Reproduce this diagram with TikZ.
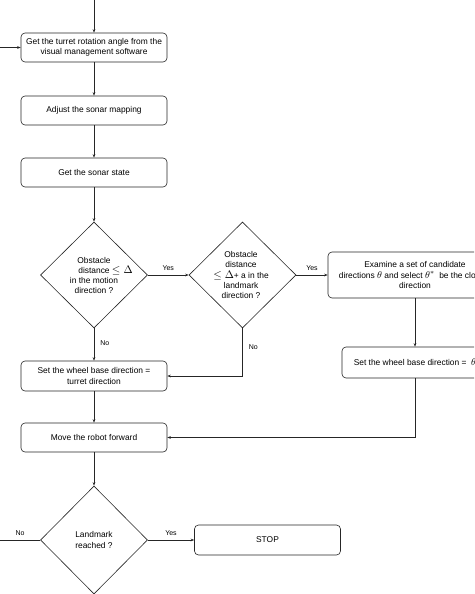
\documentclass[tikz,border=0pt]{standalone}
\usepackage{fontspec}
\setmainfont{Liberation Sans}
\usetikzlibrary{shapes.geometric,arrows.meta}
\begin{document}
\begin{tikzpicture}[x=1pt,y=-1pt,
  box/.style={draw=black!85, line width=0.6pt, rounded corners=4pt, minimum width=146pt, minimum height=29pt, inner sep=1pt, align=center, font=\fontsize{8.4}{10.3}\selectfont},
  dia/.style={draw=black!85, line width=0.6pt, diamond, minimum width=107pt, minimum height=106pt, inner sep=0pt},
  dtext/.style={align=center, inner sep=0pt, font=\fontsize{8.4}{10.3}\selectfont},
  lbl/.style={font=\fontsize{7}{8}\selectfont, inner sep=0pt},
  arr/.style={-{Stealth[length=3.5pt,width=2.6pt]}, line width=0.6pt, draw=black!85},
  ln/.style={line width=0.6pt, draw=black!85}]
\useasboundingbox (0,0) rectangle (474,594);
\clip (0,0) rectangle (474,594);
\node[box] (b1) at (94,47.5) {Get the turret rotation angle from the\\visual management software};
\node[box] (b2) at (94,110.5) {Adjust the sonar mapping};
\node[box] (b3) at (94,172.5) {Get the sonar state};
\node[dia] (d1) at (94,275) {};
\node[dtext] (t1) at (94,275.5) {Obstacle\\distance\rlap{ {\fontsize{11}{10}\selectfont$\leq\Delta$}}\\in the motion\\direction ?};
\node[dia] (d2) at (242.5,275) {};
\node[dtext] (t2) at (241,275) {Obstacle\\distance\\{\fontsize{11}{10}\selectfont$\leq\Delta$}+ a in the\\landmark\\direction ?};
\node[box, minimum width=174pt, minimum height=46pt] (b4) at (415,275) {Examine a set of candidate\\directions {\fontsize{10}{10}\selectfont$\theta$} and select {\fontsize{10}{10}\selectfont$\theta^*$}\ \ be the closest\\direction};
\node[box, minimum height=31pt] (b5) at (415,362.5) {Set the wheel base direction = \ {\fontsize{10}{10}\selectfont$\theta$}};
\node[box, minimum height=30pt] (b6) at (94,376) {Set the wheel base direction =\\turret direction};
\node[box] (b7) at (94,437.5) {Move the robot forward};
\node[dia, minimum height=108pt] (d3) at (94,540) {};
\node[dtext] (t3) at (94,540) {Landmark\\reached ?};
\node[box, minimum height=30pt] (stop) at (267.5,540) {STOP};
\coordinate (top) at (94,0);
\coordinate (lin) at (0,47.5);
\coordinate (lout) at (0,540);
\draw[arr] (top) -- (b1);
\draw[arr] (lin) -- (b1.west);
\draw[arr] (b1) -- (b2);
\draw[arr] (b2) -- (b3);
\draw[arr] (b3) -- (d1.north);
\draw[arr] (d1.east) -- node[lbl, above=4pt]{Yes} (d2.west);
\draw[arr] (d2.east) -- node[lbl, above=4pt]{Yes} (b4.west);
\draw[arr] (d1.south) -- node[lbl, right=6pt, pos=0.45]{No} (b6.north);
\draw[arr] (d2.south) |- node[lbl, right=6pt, pos=0.2]{No} (b6.east);
\draw[arr] (b4.south) -- (b5.north);
\draw[arr] (b5.south) |- (b7.east);
\draw[arr] (b6) -- (b7);
\draw[arr] (b7) -- (d3.north);
\draw[ln] (d3.west) -- node[lbl, above=4pt]{No} (lout);
\draw[arr] (d3.east) -- node[lbl, above=4pt]{Yes} (stop.west);
\end{tikzpicture}
\end{document}
